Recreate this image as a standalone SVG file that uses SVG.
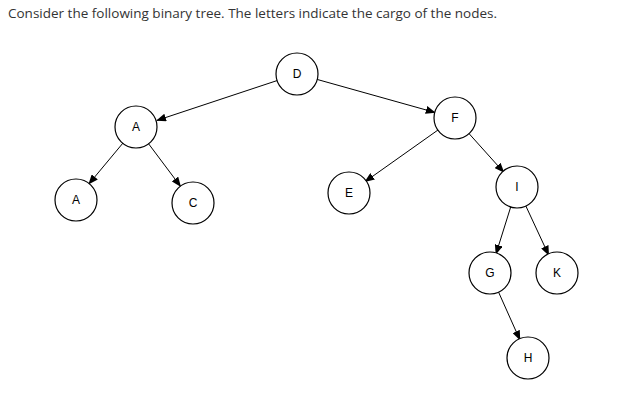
<svg xmlns="http://www.w3.org/2000/svg" width="639" height="401" viewBox="0 0 639 401">
<style>
.n circle{fill:#fff;stroke:#000;stroke-width:1.2}
.n text{font-family:Arial,"Liberation Sans",sans-serif;font-size:12px;text-anchor:middle;dominant-baseline:central;fill:#000}
.e line{stroke:#000;stroke-width:1;marker-end:url(#ah)}
</style>
<defs><marker id="ah" markerWidth="10" markerHeight="8" refX="9" refY="4" orient="auto" markerUnits="userSpaceOnUse"><path d="M0,0 L10,4 L0,8 Z" fill="#000"/></marker></defs>
<rect width="639" height="401" fill="#fff"/>
<text x="8" y="18" font-family="Open Sans,sans-serif" font-size="13.5" fill="#333">Consider the following binary tree. The letters indicate the cargo of the nodes.</text>
<g class="e">
<line x1="277" y1="80.6" x2="157" y2="120.4"/>
<line x1="317" y1="79.4" x2="434.8" y2="112.4"/>
<line x1="123" y1="143" x2="89" y2="183.8"/>
<line x1="148" y1="143" x2="180.4" y2="186.2"/>
<line x1="438.7" y1="129.5" x2="365.3" y2="181.5"/>
<line x1="468.4" y1="132.9" x2="503.6" y2="172.1"/>
<line x1="511" y1="206" x2="496" y2="253.9"/>
<line x1="525.4" y1="205" x2="548.6" y2="254.9"/>
<line x1="498.2" y1="291.3" x2="519.8" y2="339.7"/>
</g>
<g id="nD" class="n"><circle cx="297" cy="74" r="21"/><text x="297" y="74">D</text></g>
<g id="nA1" class="n"><circle cx="136" cy="127" r="21"/><text x="136" y="127">A</text></g>
<g id="nF" class="n"><circle cx="455" cy="118" r="21"/><text x="455" y="118">F</text></g>
<g id="nA2" class="n"><circle cx="76" cy="200" r="21"/><text x="76" y="200">A</text></g>
<g id="nC" class="n"><circle cx="193" cy="203" r="21"/><text x="193" y="203">C</text></g>
<g id="nE" class="n"><circle cx="349" cy="193" r="21"/><text x="349" y="193">E</text></g>
<g id="nI" class="n"><circle cx="517" cy="187" r="21"/><text x="517" y="187">I</text></g>
<g id="nG" class="n"><circle cx="490" cy="273" r="21"/><text x="490" y="273">G</text></g>
<g id="nK" class="n"><circle cx="557" cy="273" r="21"/><text x="557" y="273">K</text></g>
<g id="nH" class="n"><circle cx="528" cy="358" r="21"/><text x="528" y="358">H</text></g>
</svg>
